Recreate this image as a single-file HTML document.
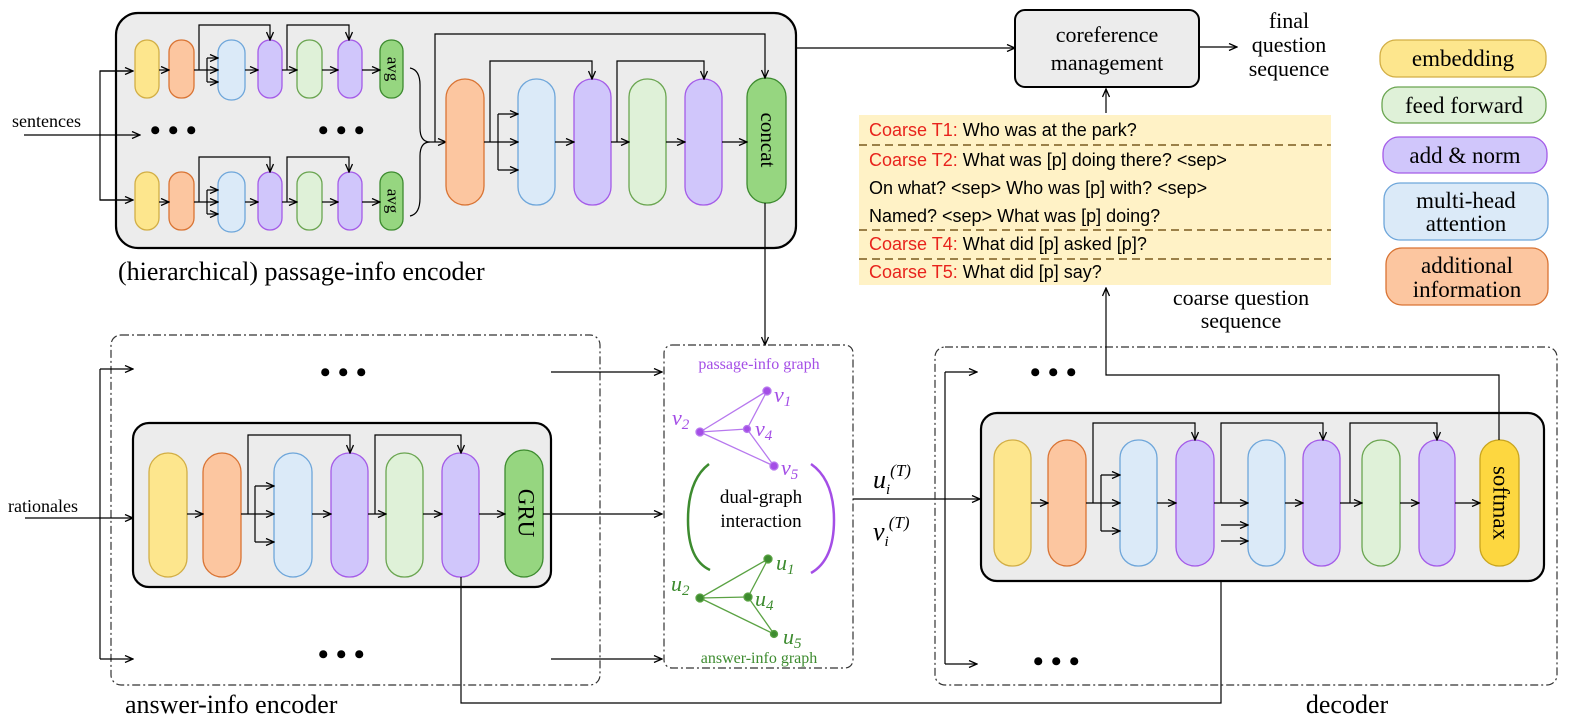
<!DOCTYPE html>
<html><head><meta charset="utf-8"><style>
body{margin:0;background:#fff}
svg{display:block}
text{font-family:"Liberation Serif",serif}
.s text{font-family:"Liberation Sans",sans-serif}
</style></head><body>
<svg width="1571" height="718" viewBox="0 0 1571 718" xmlns="http://www.w3.org/2000/svg">
<defs>
<marker id="a" markerWidth="10" markerHeight="8" refX="9" refY="4" orient="auto" markerUnits="userSpaceOnUse"><path d="M1,0.5 L9,4 L1,7.5" fill="none" stroke="#000" stroke-width="1.3"/></marker>
</defs>
<style>
.y{fill:#fde68d;stroke:#d2ae45;stroke-width:1.3}
.o{fill:#fcc6a0;stroke:#d97434;stroke-width:1.3}
.b{fill:#dbeaf8;stroke:#6ea6da;stroke-width:1.3}
.p{fill:#d0c6fb;stroke:#a45be8;stroke-width:1.3}
.g{fill:#dff1d8;stroke:#6aa550;stroke-width:1.3}
.G{fill:#96d680;stroke:#3d8b2f;stroke-width:1.3}
.S{fill:#fdd740;stroke:#c9a51e;stroke-width:1.3}
.l{fill:none;stroke:#000;stroke-width:1.2}
.la{fill:none;stroke:#000;stroke-width:1.2;marker-end:url(#a)}
.box{fill:#ececec;stroke:#000;stroke-width:2.2}
.dd{fill:none;stroke:#333;stroke-width:1.2;stroke-dasharray:8 3 2 3}
</style>

<!-- ===== top encoder ===== -->
<rect class="box" x="116" y="13" width="680" height="235" rx="22"/>
<text x="12" y="127" font-size="18">sentences</text>
<line class="la" x1="24" y1="135" x2="140" y2="135"/>
<polyline class="l" points="132,71 100,71 100,200 132,200"/>
<line class="la" x1="100" y1="71" x2="133" y2="71"/>
<line class="la" x1="100" y1="200" x2="133" y2="200"/>
<g font-size="30" font-weight="bold"><text x="150" y="140">• • •</text><text x="318" y="140">• • •</text></g>
<g id="row">
<rect class="y" x="135" y="40" width="24" height="58" rx="12"/>
<rect class="o" x="169" y="40" width="25" height="58" rx="12"/>
<rect class="b" x="218" y="40" width="27" height="60" rx="13"/>
<rect class="p" x="258" y="40" width="24" height="58" rx="12"/>
<rect class="g" x="297" y="40" width="25" height="58" rx="12"/>
<rect class="p" x="338" y="40" width="24" height="58" rx="12"/>
<rect class="G" x="380" y="40" width="23" height="58" rx="11"/>
<line class="la" x1="159" y1="70" x2="169" y2="70"/>
<line class="la" x1="194" y1="70" x2="218" y2="70"/>
<polyline class="l" points="207,58 207,82"/>
<line class="la" x1="207" y1="58" x2="218" y2="58"/>
<line class="la" x1="207" y1="82" x2="218" y2="82"/>
<polyline class="la" points="199,70 199,25 270,25 270,40"/>
<line class="la" x1="245" y1="70" x2="258" y2="70"/>
<line class="la" x1="282" y1="70" x2="297" y2="70"/>
<polyline class="la" points="287,70 287,25 349,25 349,40"/>
<line class="la" x1="322" y1="70" x2="338" y2="70"/>
<line class="la" x1="362" y1="70" x2="380" y2="70"/>
<text x="391.5" y="69" font-size="17" text-anchor="middle" transform="rotate(90 391.5 69)" dominant-baseline="middle">avg</text>
</g>
<use href="#row" transform="translate(0,132)"/>
<path class="l" d="M410,68 Q420,70 420,85 L420,128 Q420,142 430,142 Q420,142 420,156 L420,198 Q420,214 410,216"/>
<line class="la" x1="430" y1="142" x2="446" y2="142"/>
<rect class="o" x="446" y="79" width="38" height="126" rx="19"/>
<rect class="b" x="518" y="79" width="37" height="126" rx="18"/>
<rect class="p" x="574" y="79" width="37" height="126" rx="18"/>
<rect class="g" x="629" y="79" width="37" height="126" rx="18"/>
<rect class="p" x="685" y="79" width="37" height="126" rx="18"/>
<rect class="G" x="747" y="78" width="39" height="125" rx="19"/>
<text x="766" y="140" font-size="21" text-anchor="middle" dominant-baseline="middle" transform="rotate(90 766 140)">concat</text>
<polyline class="la" points="435,142 435,34 765,34 765,78"/>
<line class="la" x1="484" y1="142" x2="518" y2="142"/>
<polyline class="l" points="498,114 498,170"/>
<line class="la" x1="498" y1="114" x2="518" y2="114"/>
<line class="la" x1="498" y1="170" x2="518" y2="170"/>
<polyline class="la" points="490,142 490,61 592,61 592,79"/>
<line class="la" x1="555" y1="142" x2="574" y2="142"/>
<line class="la" x1="611" y1="142" x2="629" y2="142"/>
<polyline class="la" points="617,142 617,61 704,61 704,79"/>
<line class="la" x1="666" y1="142" x2="685" y2="142"/>
<line class="la" x1="722" y1="142" x2="747" y2="142"/>
<text x="118" y="280" font-size="26">(hierarchical) passage-info encoder</text>
<line class="la" x1="765" y1="203" x2="765" y2="345"/>

<!-- coreference -->
<line class="la" x1="796" y1="48" x2="1015" y2="48"/>
<rect x="1015" y="10" width="184" height="77" rx="10" fill="#ececec" stroke="#000" stroke-width="2"/>
<text x="1107" y="42" font-size="22" text-anchor="middle">coreference</text>
<text x="1107" y="70" font-size="22" text-anchor="middle">management</text>
<line class="la" x1="1199" y1="47" x2="1237" y2="47"/>
<g font-size="22" text-anchor="middle"><text x="1289" y="28">final</text><text x="1289" y="52">question</text><text x="1289" y="76">sequence</text></g>

<!-- yellow box -->
<rect x="859" y="115" width="472" height="170" fill="#fff2c6"/>
<line class="la" x1="1106" y1="113" x2="1106" y2="89"/>
<g stroke="#7a5a1e" stroke-width="1.6" stroke-dasharray="8 5"><line x1="859" y1="145" x2="1331" y2="145"/><line x1="859" y1="230" x2="1331" y2="230"/><line x1="859" y1="259" x2="1331" y2="259"/></g>
<g class="s" font-size="18">
<text x="869" y="136"><tspan fill="#e8231c">Coarse T1:</tspan> Who was at the park?</text>
<text x="869" y="166"><tspan fill="#e8231c">Coarse T2:</tspan> What was [p] doing there?  &lt;sep&gt;</text>
<text x="869" y="194">On what? &lt;sep&gt; Who was [p] with? &lt;sep&gt;</text>
<text x="869" y="222">Named? &lt;sep&gt; What was [p] doing?</text>
<text x="869" y="250"><tspan fill="#e8231c">Coarse T4:</tspan> What did [p] asked [p]?</text>
<text x="869" y="278"><tspan fill="#e8231c">Coarse T5:</tspan> What did [p] say?</text>
</g>
<g font-size="22" text-anchor="middle"><text x="1241" y="305">coarse question</text><text x="1241" y="328">sequence</text></g>

<!-- legend -->
<rect class="y" x="1380" y="40" width="166" height="37" rx="16"/>
<rect class="g" x="1382" y="87" width="164" height="36" rx="16"/>
<rect class="p" x="1383" y="137" width="164" height="36" rx="16"/>
<rect class="b" x="1384" y="183" width="164" height="57" rx="16"/>
<rect class="o" x="1386" y="248" width="162" height="57" rx="16"/>
<g font-size="23" text-anchor="middle">
<text x="1463" y="66">embedding</text><text x="1464" y="113">feed forward</text><text x="1465" y="163">add &amp; norm</text>
<text x="1466" y="208">multi-head</text><text x="1466" y="231">attention</text>
<text x="1467" y="273">additional</text><text x="1467" y="297">information</text></g>

<!-- ===== answer encoder ===== -->
<rect class="dd" x="111" y="335" width="489" height="350" rx="10"/>
<text x="8" y="512" font-size="18">rationales</text>
<line class="la" x1="25" y1="518" x2="133" y2="518"/>
<line class="l" x1="100" y1="369" x2="100" y2="659"/>
<line class="la" x1="100" y1="369" x2="133" y2="369"/>
<line class="la" x1="100" y1="659" x2="133" y2="659"/>
<g font-size="30" font-weight="bold"><text x="320" y="382">• • •</text><text x="318" y="664">• • •</text></g>
<rect class="box" x="133" y="423" width="418" height="164" rx="16"/>
<rect class="y" x="149" y="453" width="38" height="124" rx="19"/>
<rect class="o" x="203" y="453" width="38" height="124" rx="19"/>
<rect class="b" x="274" y="453" width="38" height="124" rx="19"/>
<rect class="p" x="331" y="453" width="37" height="124" rx="18"/>
<rect class="g" x="386" y="453" width="37" height="124" rx="18"/>
<rect class="p" x="442" y="453" width="37" height="124" rx="18"/>
<rect class="G" x="505" y="450" width="38" height="127" rx="19"/>
<text x="524" y="513" font-size="23" text-anchor="middle" dominant-baseline="middle" transform="rotate(90 524 513)">GRU</text>
<line class="la" x1="187" y1="514" x2="203" y2="514"/>
<line class="la" x1="241" y1="514" x2="274" y2="514"/>
<polyline class="l" points="255,486 255,542"/>
<line class="la" x1="255" y1="486" x2="274" y2="486"/>
<line class="la" x1="255" y1="542" x2="274" y2="542"/>
<polyline class="la" points="248,514 248,435 350,435 350,453"/>
<line class="la" x1="312" y1="514" x2="331" y2="514"/>
<line class="la" x1="368" y1="514" x2="386" y2="514"/>
<polyline class="la" points="375,514 375,435 461,435 461,453"/>
<line class="la" x1="423" y1="514" x2="442" y2="514"/>
<line class="la" x1="479" y1="514" x2="505" y2="514"/>
<line class="la" x1="551" y1="372" x2="662" y2="372"/>
<line class="la" x1="543" y1="514" x2="662" y2="514"/>
<line class="la" x1="551" y1="659" x2="662" y2="659"/>
<polyline class="l" points="461,577 461,703 1221,703 1221,525"/>
<text x="125" y="713" font-size="26">answer-info encoder</text>

<!-- ===== graph ===== -->
<rect class="dd" x="664" y="345" width="189" height="323" rx="8"/>
<text x="759" y="369" font-size="16" fill="#a44ee6" text-anchor="middle">passage-info graph</text>
<g stroke="#b778ee" stroke-width="1.3" fill="#a44ee6">
<line x1="700" y1="432" x2="767" y2="391"/><line x1="700" y1="432" x2="747" y2="429"/><line x1="700" y1="432" x2="774" y2="466"/><line x1="767" y1="391" x2="747" y2="429"/><line x1="747" y1="429" x2="774" y2="466"/>
<circle cx="700" cy="432" r="4"/><circle cx="767" cy="391" r="4"/><circle cx="747" cy="429" r="3.5"/><circle cx="774" cy="466" r="4"/></g>
<g font-size="22" font-style="italic" fill="#a44ee6"><text x="672" y="425">v<tspan font-size="15" dy="4">2</tspan></text><text x="774" y="402">v<tspan font-size="15" dy="4">1</tspan></text><text x="755" y="436">v<tspan font-size="15" dy="4">4</tspan></text><text x="781" y="475">v<tspan font-size="15" dy="4">5</tspan></text></g>
<path d="M709,464 Q688,480 688,520 Q688,560 710,570" fill="none" stroke="#3d8b2f" stroke-width="2.5"/>
<path d="M811,464 Q834,480 834,520 Q834,560 811,573" fill="none" stroke="#a44ee6" stroke-width="2.5"/>
<text x="761" y="503" font-size="19" text-anchor="middle">dual-graph</text>
<text x="761" y="527" font-size="19" text-anchor="middle">interaction</text>
<g stroke="#5aa243" stroke-width="1.3" fill="#3d8b2f">
<line x1="700" y1="598" x2="768" y2="559"/><line x1="700" y1="598" x2="748" y2="597"/><line x1="700" y1="598" x2="774" y2="634"/><line x1="768" y1="559" x2="748" y2="597"/><line x1="748" y1="597" x2="774" y2="634"/>
<circle cx="700" cy="598" r="4"/><circle cx="768" cy="559" r="4"/><circle cx="748" cy="597" r="4"/><circle cx="774" cy="634" r="3.5"/></g>
<g font-size="22" font-style="italic" fill="#3d8b2f"><text x="671" y="591">u<tspan font-size="15" dy="4">2</tspan></text><text x="776" y="570">u<tspan font-size="15" dy="4">1</tspan></text><text x="755" y="606">u<tspan font-size="15" dy="4">4</tspan></text><text x="783" y="644">u<tspan font-size="15" dy="4">5</tspan></text></g>
<text x="759" y="663" font-size="16" fill="#3d8b2f" text-anchor="middle">answer-info graph</text>

<line class="la" x1="853" y1="499" x2="980" y2="499"/>
<g font-size="26" font-style="italic"><text x="873" y="488">u<tspan font-size="15" dy="6">i</tspan><tspan font-size="17" dy="-18">(T)</tspan></text>
<text x="873" y="540">v<tspan font-size="15" dy="6">i</tspan><tspan font-size="17" dy="-18">(T)</tspan></text></g>

<!-- ===== decoder ===== -->
<rect class="dd" x="935" y="347" width="622" height="338" rx="10"/>
<line class="l" x1="945" y1="372" x2="945" y2="664"/>
<line class="la" x1="945" y1="372" x2="977" y2="372"/>
<line class="la" x1="945" y1="664" x2="977" y2="664"/>
<g font-size="30" font-weight="bold"><text x="1030" y="382">• • •</text><text x="1033" y="671">• • •</text></g>
<rect class="box" x="981" y="413" width="563" height="168" rx="16"/>
<rect class="y" x="994" y="440" width="37" height="126" rx="18"/>
<rect class="o" x="1048" y="440" width="38" height="126" rx="19"/>
<rect class="b" x="1120" y="440" width="37" height="126" rx="18"/>
<rect class="p" x="1176" y="440" width="38" height="126" rx="19"/>
<rect class="b" x="1248" y="440" width="37" height="126" rx="18"/>
<rect class="p" x="1303" y="440" width="37" height="126" rx="18"/>
<rect class="g" x="1362" y="440" width="38" height="126" rx="19"/>
<rect class="p" x="1419" y="440" width="36" height="126" rx="18"/>
<rect class="S" x="1480" y="440" width="39" height="126" rx="19"/>
<text x="1499" y="503" font-size="23" text-anchor="middle" dominant-baseline="middle" transform="rotate(90 1499 503)">softmax</text>
<line class="la" x1="1031" y1="503" x2="1048" y2="503"/>
<line class="la" x1="1086" y1="503" x2="1120" y2="503"/>
<polyline class="l" points="1101,475 1101,531"/>
<line class="la" x1="1101" y1="475" x2="1120" y2="475"/>
<line class="la" x1="1101" y1="531" x2="1120" y2="531"/>
<polyline class="la" points="1093,503 1093,423 1195,423 1195,440"/>
<line class="la" x1="1157" y1="503" x2="1176" y2="503"/>
<line class="la" x1="1214" y1="503" x2="1248" y2="503"/>
<polyline class="la" points="1221,503 1221,423 1323,423 1323,440"/>
<line class="la" x1="1221" y1="525" x2="1248" y2="525"/>
<line class="la" x1="1221" y1="541" x2="1248" y2="541"/>
<line class="la" x1="1285" y1="503" x2="1303" y2="503"/>
<line class="la" x1="1340" y1="503" x2="1362" y2="503"/>
<polyline class="la" points="1350,503 1350,423 1437,423 1437,440"/>
<line class="la" x1="1400" y1="503" x2="1419" y2="503"/>
<line class="la" x1="1455" y1="503" x2="1480" y2="503"/>
<polyline class="la" points="1499,440 1499,375 1106,375 1106,288"/>
<text x="1347" y="713" font-size="26" text-anchor="middle">decoder</text>
</svg>
</body></html>
